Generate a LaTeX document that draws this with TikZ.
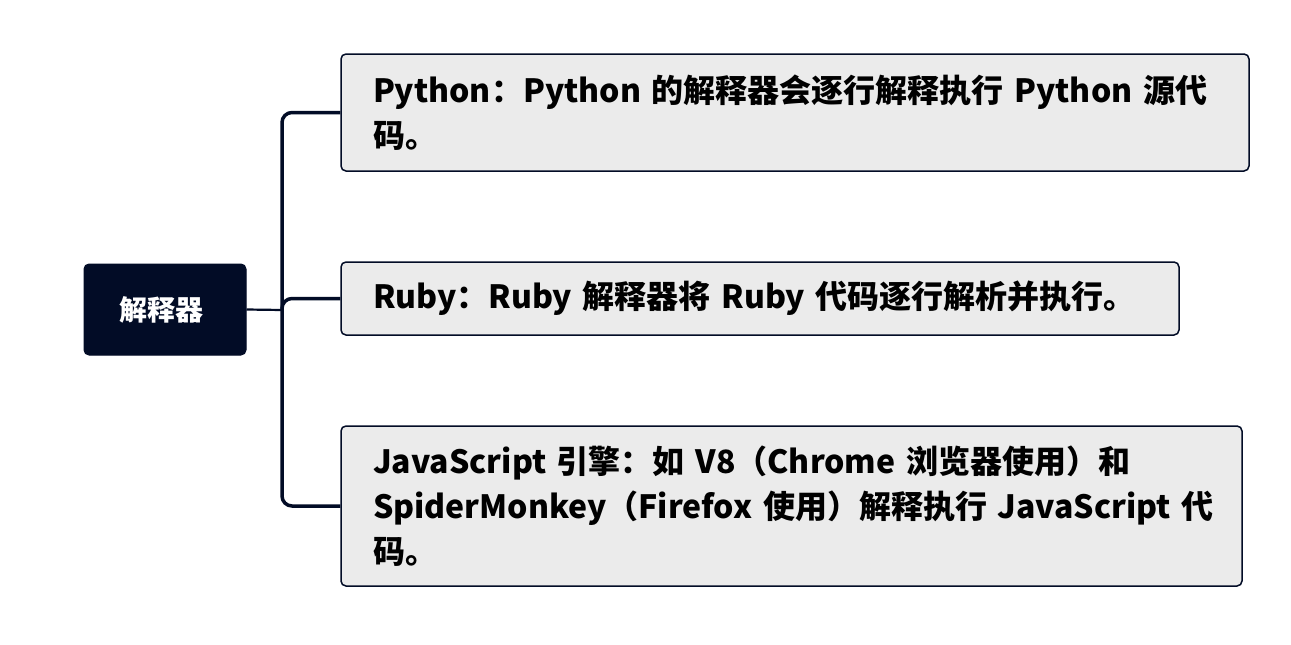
\documentclass[tikz,border=0pt]{standalone}
\usepackage{fontspec}
\setmainfont{Noto Sans CJK SC}
\definecolor{navy}{HTML}{020C26}
\definecolor{boxfill}{HTML}{EBEBEB}
\begin{document}
\begin{tikzpicture}[x=1pt,y=-1pt,
  rootbox/.style={draw=navy, fill=navy, rounded corners=5pt, line width=1pt,
    minimum width=162pt, minimum height=91pt, inner sep=0pt, text=white,
    font=\fontsize{28}{32}\selectfont\bfseries},
  leafbox/.style={draw=navy, fill=boxfill, rounded corners=5pt, line width=1.5pt,
    inner xsep=32pt, inner ysep=0pt, align=left, text=black,
    font=\fontsize{32}{45}\selectfont\bfseries},
  trunk/.style={draw=navy, line width=2.2pt},
  branch/.style={draw=navy, line width=3.5pt, rounded corners=10pt}]
\useasboundingbox[fill=white] (0,0) rectangle (1291,645);
\node[rootbox] (root) at (165,309.5) {\hspace*{-8pt}解释器};
\node[leafbox, minimum width=908pt, minimum height=117pt, text width=844pt] (b1) at (795,112.5)
  {\mbox{Python：Python 的解释器会逐行解释执行 Python 源代}\\码。};
\node[leafbox, minimum width=838pt, minimum height=73pt, text width=774pt] (b2) at (760,298.5)
  {\mbox{Ruby：Ruby 解释器将 Ruby 代码逐行解析并执行。}};
\node[leafbox, minimum width=901pt, minimum height=160pt, text width=837pt] (b3) at (791.5,506)
  {\mbox{JavaScript 引擎：如 V8（Chrome 浏览器使用）和}\\\mbox{SpiderMonkey（Firefox 使用）解释执行 JavaScript 代}\\码。};
\coordinate (sp) at (282,310);
\draw[trunk] (root.east) -- (sp);
\draw[branch] (sp) |- (b1.west);
\draw[branch] (sp) |- (b2.west);
\draw[branch] (sp) |- (b3.west);
\end{tikzpicture}
\end{document}
